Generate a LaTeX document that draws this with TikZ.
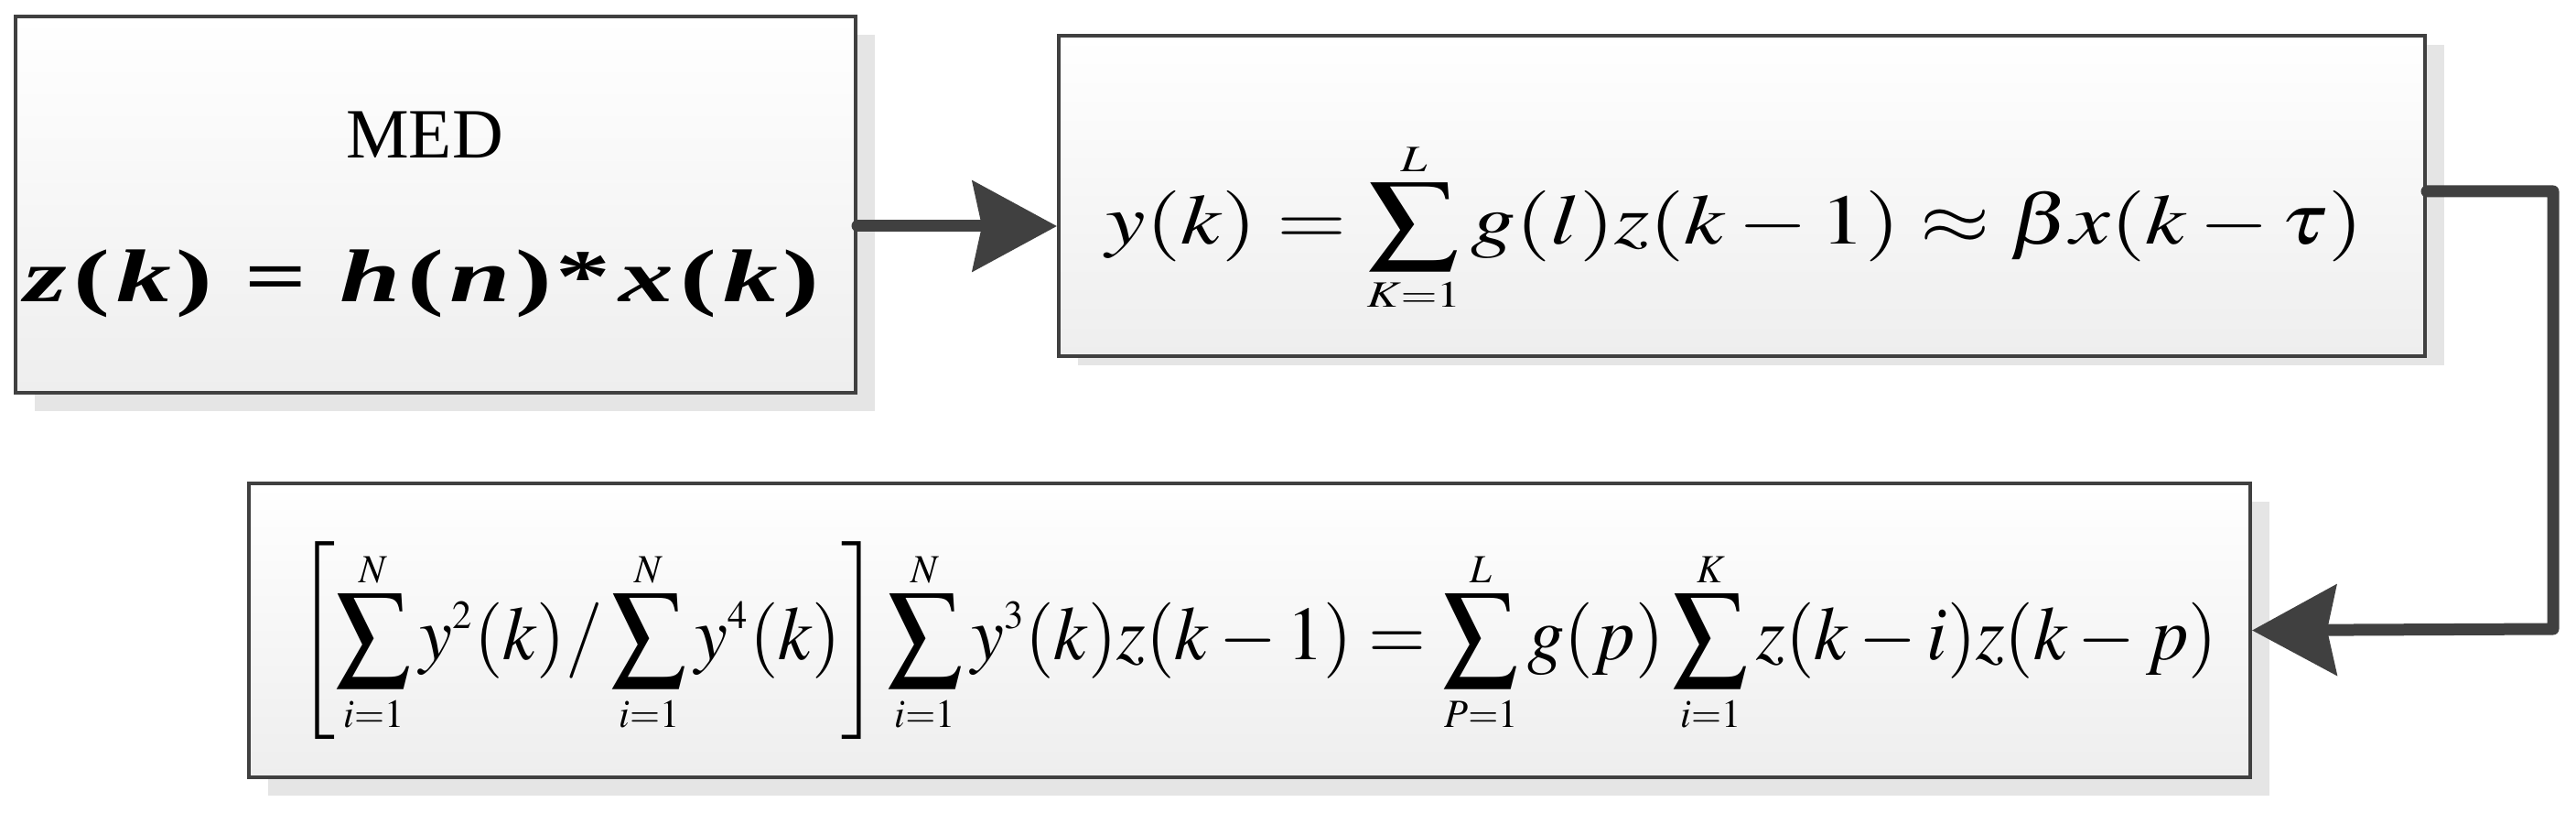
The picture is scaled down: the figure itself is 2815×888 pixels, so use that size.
\documentclass[tikz,border=0pt]{standalone}
\usepackage{mathptmx}
\usepackage[no-math]{fontspec}
\setmainfont{Liberation Serif}
\usepackage{graphicx}
\usetikzlibrary{arrows.meta,shadows}

\DeclareMathSizes{20}{20}{10.5}{8}
\newcommand{\tightops}{\fontdimen11\textfont3=3pt \fontdimen12\textfont3=9pt \fontdimen13\textfont3=0pt }
\newcommand{\tallopen}{\mathopen{\vcenter{\hbox{\resizebox*{!}{2.6em}{$\Biggl[$}}}}}
\newcommand{\tallclose}{\mathclose{\vcenter{\hbox{\resizebox*{!}{2.6em}{$\Biggr]$}}}}}

\definecolor{linegray}{HTML}{404040}
\definecolor{shadowgray}{HTML}{E5E5E5}
\definecolor{fillgray}{HTML}{EEEEEE}

\tikzset{
	blockbox/.style={draw=linegray, line width=1pt, top color=white, bottom color=fillgray, inner sep=0pt, anchor=north west,
		drop shadow={shadow xshift=5.3pt, shadow yshift=#1, opacity=1, fill=shadowgray}},
	blockbox/.default=-5pt,
	formula/.style={inner sep=0pt, anchor=center},
	flowarrow/.style={draw=linegray, line width=3.25pt, line cap=round, line join=round,
		-{Stealth[length=23pt, width=24.5pt, inset=2.5pt]}}
}

\begin{document}
\begin{tikzpicture}[x=0.25pt, y=-0.25pt]
			%%%%% START %%%%%
			\useasboundingbox (0,0) rectangle (2815,888);
			
			\node[blockbox, minimum width=229.5pt, minimum height=102.75pt] (medbox) at (15,16) {};
			\node[blockbox=-2.5pt, minimum width=373.25pt, minimum height=87.5pt] (filterbox) at (1155,37) {};
			\node[blockbox, minimum width=546.75pt, minimum height=80.25pt] (solvebox) at (270,526) {};
			
			\node[anchor=base, inner sep=0pt, font=\fontsize{19.3}{23}\selectfont] (medtitle) at (464,173) {MED};
			\node[formula] (medeq) at (461,310) {\resizebox*{217pt}{18.5pt}{\fontsize{20}{24}\selectfont\bfseries
				\textit{z}\hspace{.06em}(\hspace{.06em}\textit{k}\hspace{.04em})\hspace{.3em}=\hspace{.3em}\textit{h}\hspace{.06em}(\hspace{.06em}\textit{n}\hspace{.04em})\hspace{.04em}*\hspace{.08em}\textit{x}\hspace{.06em}(\hspace{.06em}\textit{k}\hspace{.04em})}};
			
			\node[formula] (filtereq) at (1895.5,248.5) {\resizebox*{343.25pt}{43.5pt}{\fontsize{20}{24}\selectfont
				$\tightops\displaystyle y(k)=\sum_{K=1}^{L}g(l)z(k-1)\approx\beta x(k-\tau)$}};
			
			\node[formula] (solveeq) at (1374.5,700) {\resizebox*{524.25pt}{54pt}{\fontsize{20}{24}\selectfont
				$\tightops\displaystyle
				\tallopen\sum_{i=1}^{N}y^{2}(k)/\sum_{i=1}^{N}y^{4}(k)\tallclose\sum_{i=1}^{N}y^{3}(k)z(k-1)=\sum_{P=1}^{L}g(p)\sum_{i=1}^{K}z(k-i)z(k-p)$}};
			
			\coordinate (rowone) at (0,247);
			\draw[flowarrow] (medbox.east |- rowone) -- (filterbox.west |- rowone);
			
			\coordinate (turn) at (2790,687);
			\draw[flowarrow] ([yshift=1.25pt]filterbox.east) -| (turn) -- (solvebox.east);
			
			%%%%% END %%%%%
\end{tikzpicture}
\end{document}
